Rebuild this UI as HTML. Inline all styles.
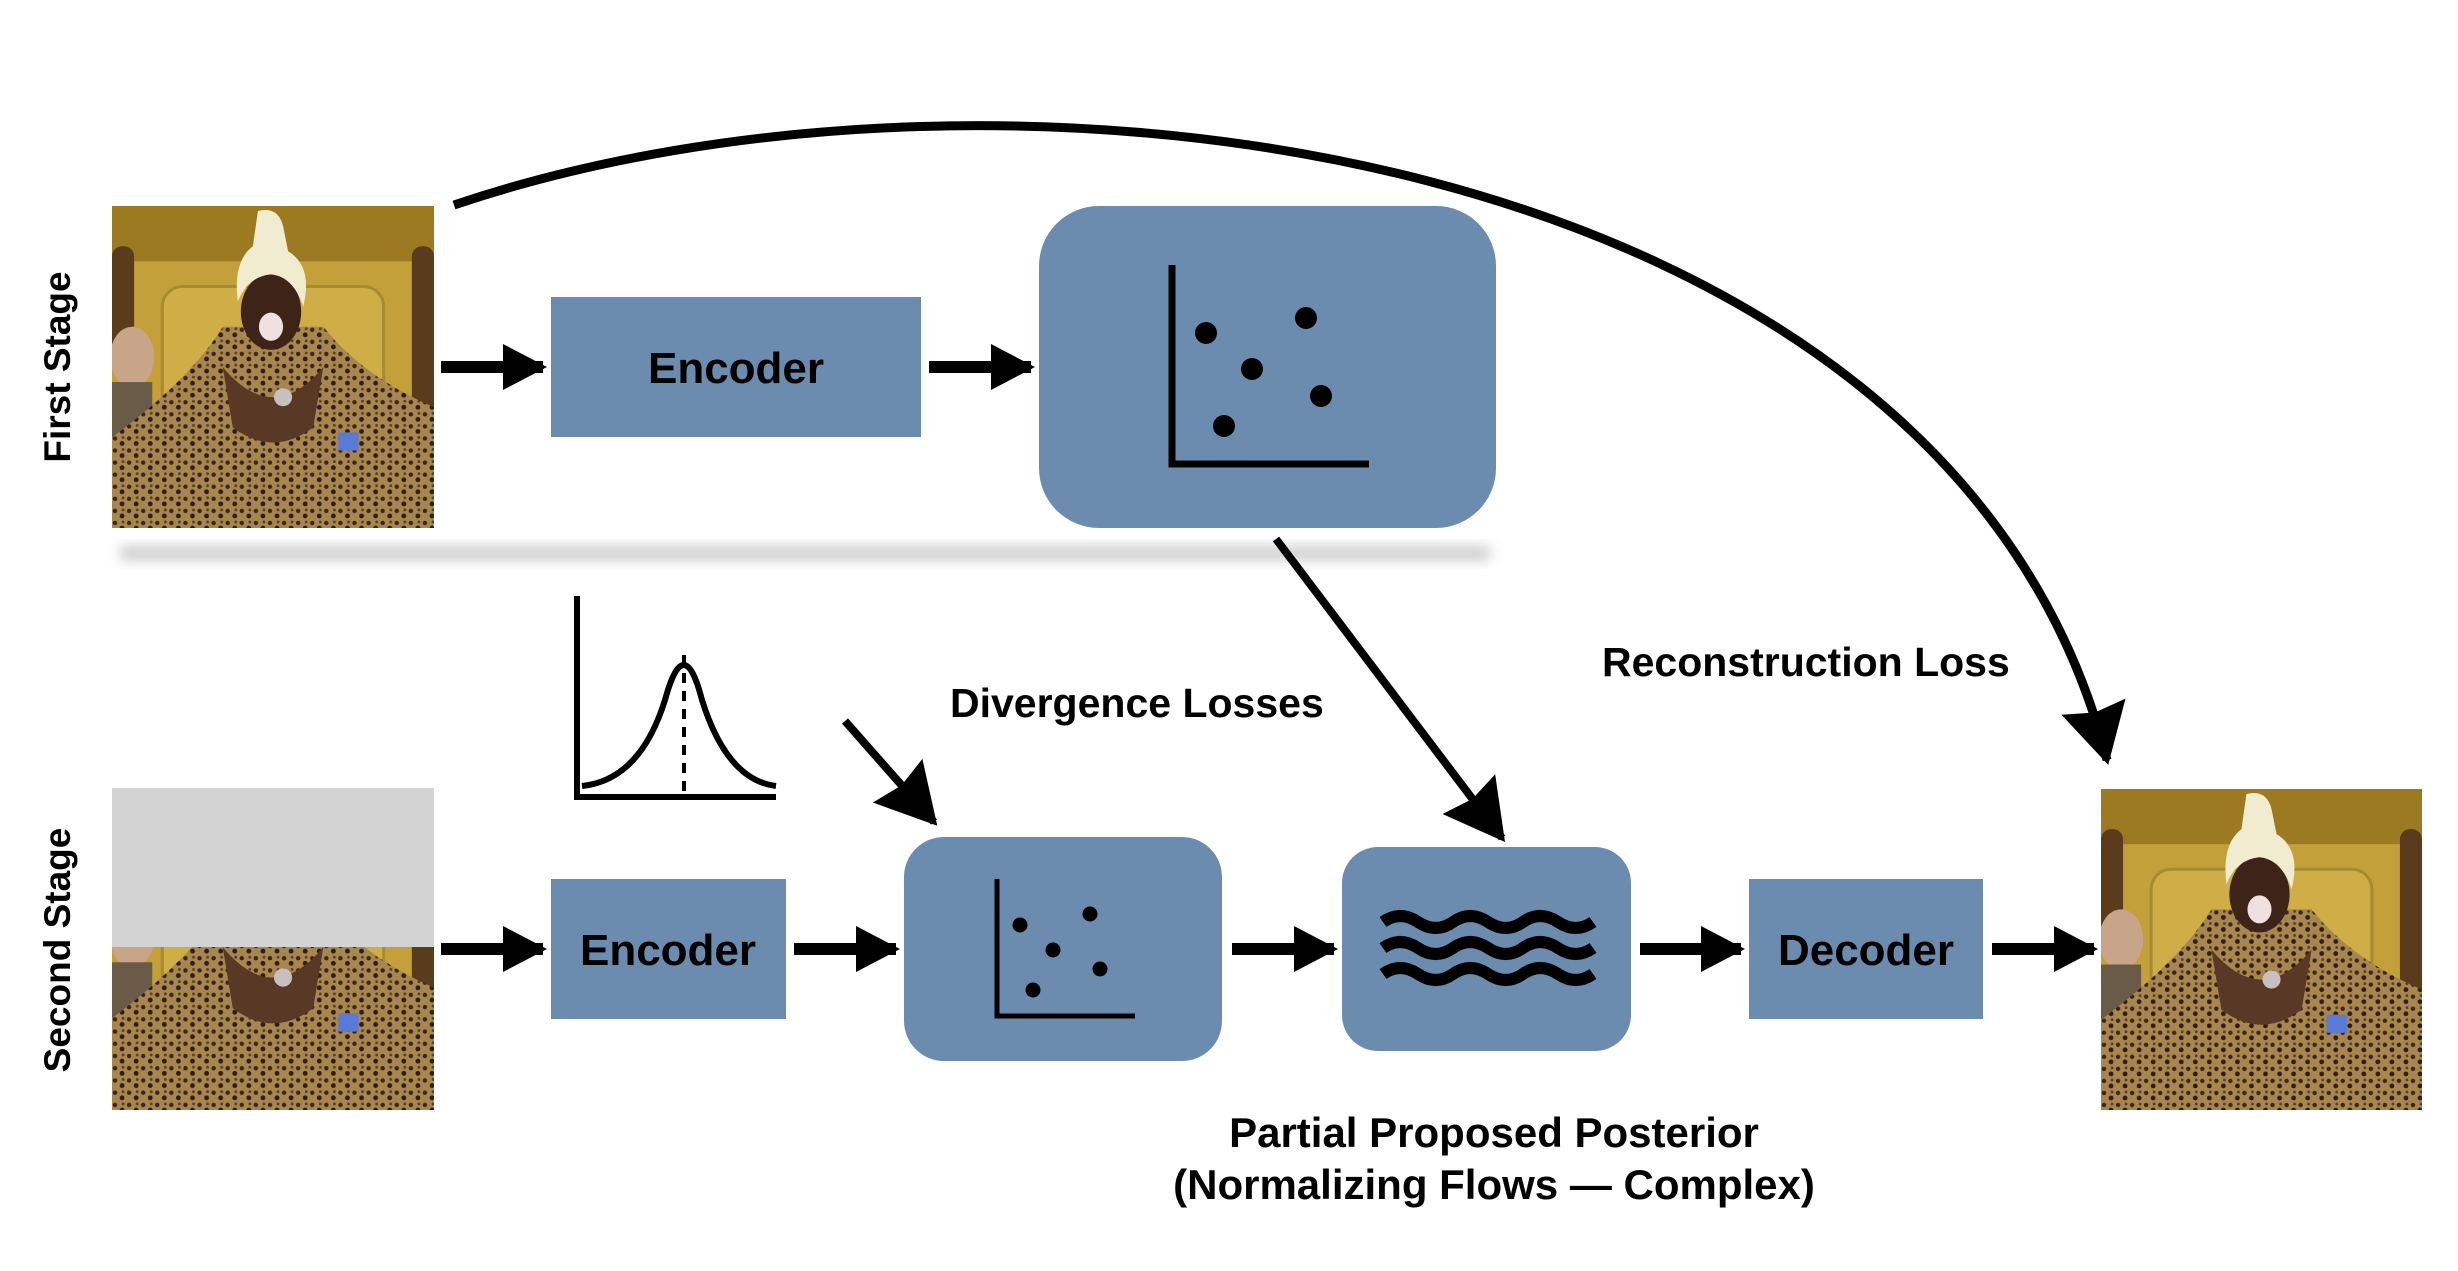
<!DOCTYPE html>
<html><head><meta charset="utf-8"><style>
html,body{margin:0;padding:0;background:#fff;}
body{width:2458px;height:1271px;overflow:hidden;position:relative;font-family:"Liberation Sans",sans-serif;}
svg{position:absolute;left:0;top:0;}
</style></head><body>
<svg width="2458" height="1271" viewBox="0 0 2458 1271" xmlns="http://www.w3.org/2000/svg">
<defs>
<filter id="blur" x="-10%" y="-50%" width="120%" height="200%"><feGaussianBlur stdDeviation="6"/></filter>
<filter id="blur2" x="-10%" y="-10%" width="120%" height="120%"><feGaussianBlur stdDeviation="10"/></filter>
<pattern id="leo" width="14" height="12" patternUnits="userSpaceOnUse">
<rect width="14" height="12" fill="#a88650"/>
<circle cx="3" cy="3" r="2.2" fill="#3a2614"/><circle cx="10" cy="8" r="2.4" fill="#2e1e10"/><circle cx="11" cy="2" r="1.4" fill="#5a3e20"/>
</pattern>
<symbol id="ph" viewBox="0 0 320 320">
<rect width="320" height="320" fill="#c3a03a"/>
<rect width="320" height="55" fill="#9c7a22"/>
<rect x="50" y="80" width="220" height="240" rx="20" fill="#cfae48" stroke="#a88a30" stroke-width="3"/>
<rect x="0" y="40" width="22" height="110" rx="10" fill="#5a3c1c"/>
<rect x="298" y="40" width="22" height="280" rx="10" fill="#5a3c1c"/>
<ellipse cx="20" cy="150" rx="22" ry="30" fill="#c8a488"/>
<rect x="0" y="175" width="40" height="145" fill="#6a5a48"/>
<path d="M0 230 Q80 170 110 120 L210 120 Q250 170 320 200 L320 320 L0 320 Z" fill="url(#leo)"/>
<path d="M110 160 Q160 220 210 160 L200 220 Q160 250 120 220 Z" fill="#5a3826"/>
<ellipse cx="158" cy="105" rx="30" ry="38" fill="#3e2418"/>
<ellipse cx="158" cy="120" rx="12" ry="14" fill="#f0e0e0"/>
<path d="M125 95 Q120 55 140 40 L145 5 Q165 0 170 20 L175 45 Q200 60 190 100 Q180 70 158 68 Q135 70 125 95 Z" fill="#f1ecd0"/>
<circle cx="170" cy="190" r="9" fill="#c8c0c0"/>
<rect x="225" y="225" width="20" height="18" fill="#5a7ad8"/>
</symbol>
<marker id="ah" markerWidth="44" markerHeight="46" refX="40" refY="23" orient="auto" markerUnits="userSpaceOnUse"><path d="M0 0 L44 23 L0 46 Z" fill="#000"/></marker>
<marker id="rh" markerWidth="60" markerHeight="70" refX="55" refY="35" orient="auto" markerUnits="userSpaceOnUse"><path d="M0 2 L60 35 L0 68 L6 35 Z" fill="#000"/></marker>
</defs>

<!-- first stage card -->
<rect x="120" y="545" width="1370" height="16" fill="#999" filter="url(#blur)" opacity="0.45"/>
<rect x="102" y="193" width="1398" height="346" fill="#fff" filter="url(#blur2)" opacity="0.2"/>
<rect x="102" y="193" width="1398" height="346" fill="#fff"/>

<use href="#ph" x="112" y="206" width="322" height="322"/>
<rect x="551" y="297" width="370" height="140" fill="#6b8caf"/>
<text x="736" y="383" font-size="44" font-weight="bold" text-anchor="middle">Encoder</text>
<line x1="441" y1="367" x2="543" y2="367" stroke="#000" stroke-width="12" marker-end="url(#ah)"/>
<line x1="929" y1="367" x2="1031" y2="367" stroke="#000" stroke-width="12" marker-end="url(#ah)"/>
<rect x="1039" y="206" width="457" height="322" rx="60" fill="#6b8caf"/>
<path d="M1172 265 V464 H1369" fill="none" stroke="#000" stroke-width="7"/>
<circle cx="1206" cy="333" r="11"/><circle cx="1306" cy="318" r="11"/><circle cx="1252" cy="369" r="11"/><circle cx="1321" cy="396" r="11"/><circle cx="1224" cy="426" r="11"/>
<text transform="translate(70,367) rotate(-90)" font-size="37" font-weight="bold" text-anchor="middle">First Stage</text>

<!-- gaussian -->
<path d="M577 596 V797 H776" fill="none" stroke="#000" stroke-width="6"/>
<path d="M582 786 Q640 780 665 700 Q684 630 702 700 Q727 780 776 786" fill="none" stroke="#000" stroke-width="6"/>
<line x1="684" y1="655" x2="684" y2="797" stroke="#000" stroke-width="4" stroke-dasharray="10,8"/>

<text x="950" y="717" font-size="41" font-weight="bold">Divergence Losses</text>
<text x="1602" y="676" font-size="41" font-weight="bold">Reconstruction Loss</text>
<text x="1494" y="1147" font-size="42" font-weight="bold" text-anchor="middle">Partial Proposed Posterior</text>
<text x="1494" y="1199" font-size="42" font-weight="bold" text-anchor="middle">(Normalizing Flows — Complex)</text>

<!-- rough arrows -->
<line x1="845" y1="721" x2="934" y2="822" stroke="#000" stroke-width="8" marker-end="url(#rh)"/>
<line x1="1276" y1="539" x2="1502" y2="838" stroke="#000" stroke-width="8" marker-end="url(#rh)"/>
<path d="M454 205 C 1000 20, 1950 140, 2107 760" fill="none" stroke="#000" stroke-width="9" marker-end="url(#rh)"/>

<!-- second stage -->
<rect x="112" y="788" width="322" height="159" fill="#d3d3d3"/>
<svg x="112" y="947" width="322" height="163" viewBox="0 160 320 160" preserveAspectRatio="none"><use href="#ph" x="0" y="0" width="320" height="320"/></svg>
<text transform="translate(70,950) rotate(-90)" font-size="37" font-weight="bold" text-anchor="middle">Second Stage</text>
<line x1="441" y1="949" x2="543" y2="949" stroke="#000" stroke-width="12" marker-end="url(#ah)"/>
<rect x="551" y="879" width="235" height="140" fill="#6b8caf"/>
<text x="668" y="965" font-size="44" font-weight="bold" text-anchor="middle">Encoder</text>
<line x1="794" y1="949" x2="896" y2="949" stroke="#000" stroke-width="12" marker-end="url(#ah)"/>
<rect x="904" y="837" width="318" height="224" rx="40" fill="#6b8caf"/>
<path d="M997 879 V1016 H1135" fill="none" stroke="#000" stroke-width="5"/>
<circle cx="1020" cy="925" r="7.5"/><circle cx="1090" cy="914" r="7.5"/><circle cx="1053" cy="950" r="7.5"/><circle cx="1100" cy="969" r="7.5"/><circle cx="1033" cy="990" r="7.5"/>
<line x1="1232" y1="949" x2="1334" y2="949" stroke="#000" stroke-width="12" marker-end="url(#ah)"/>
<rect x="1342" y="847" width="289" height="204" rx="36" fill="#6b8caf"/>
<g fill="none" stroke="#000" stroke-width="12">
<path d="M1383 922 q17 -12 35 0 t35 0 t35 0 t35 0 t35 0 t35 0"/>
<path d="M1383 948 q17 -12 35 0 t35 0 t35 0 t35 0 t35 0 t35 0"/>
<path d="M1383 974 q17 -12 35 0 t35 0 t35 0 t35 0 t35 0 t35 0"/>
</g>
<line x1="1640" y1="949" x2="1741" y2="949" stroke="#000" stroke-width="12" marker-end="url(#ah)"/>
<rect x="1749" y="879" width="234" height="140" fill="#6b8caf"/>
<text x="1866" y="965" font-size="44" font-weight="bold" text-anchor="middle">Decoder</text>
<line x1="1992" y1="949" x2="2094" y2="949" stroke="#000" stroke-width="12" marker-end="url(#ah)"/>
<use href="#ph" x="2101" y="789" width="321" height="321"/>
</svg>
</body></html>
